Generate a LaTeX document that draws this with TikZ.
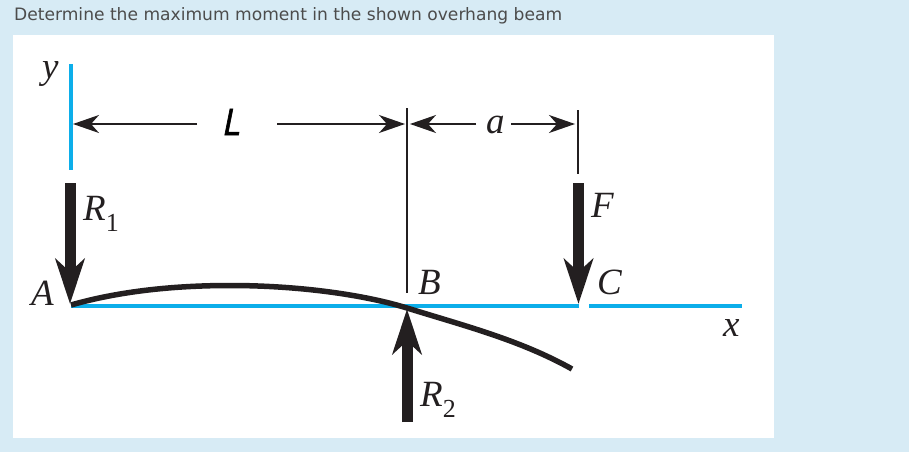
\documentclass[tikz,border=0pt]{standalone}
\usepackage{fontspec}
\usepackage{xcolor}
\usetikzlibrary{arrows.meta}
\setmainfont{Liberation Serif}
\newfontfamily\headfont{DejaVu Sans}
\newfontfamily\dimfont[FakeBold=1.6,FakeSlant=0.2,FakeStretch=0.82]{Liberation Sans}
\definecolor{pagebg}{HTML}{D7EBF5}
\definecolor{axisblue}{HTML}{0CAEEA}
\definecolor{inkblack}{HTML}{231F20}
\tikzset{
    lbl/.style={inner sep=0pt, anchor=base west, text=inkblack, font=\fontsize{37}{40}\selectfont\itshape},
    axisline/.style={axisblue, line width=3.6},
    extline/.style={inkblack, line width=1.2},
    dimarrow/.style={inkblack, line width=1.3, -{Stealth[length=26,width=18,inset=8]}},
    forcearrow/.style={inkblack, line width=11, -{Stealth[length=45,width=29,inset=13]}},
}
\newcommand{\subnum}[1]{\raisebox{-11pt}{\fontsize{26}{26}\selectfont\upshape #1}}

\begin{document}
\begin{tikzpicture}[x=1pt, y=-1pt]
\useasboundingbox (0,0) rectangle (909,452);
\fill[pagebg] (0,0) rectangle (909,452);
\fill[white] (13,35) rectangle (774,438);
\node[inner sep=0pt, anchor=base west, text=black!70, font=\fontsize{17.1}{20}\headfont] (title) at (14,21) {Determine the maximum moment in the shown overhang beam};

% end points
\coordinate (ytop) at (71,64);
\coordinate (ybot) at (71,170);
\coordinate (A) at (71,305);
\coordinate (Bbeam) at (407,308);
\coordinate (Cbeam) at (579,306);
\coordinate (Cgap) at (589,306);
\coordinate (xend) at (742,306);
\coordinate (peak) at (230,285.5);
\coordinate (tipend) at (572,369);

% blue axes
\draw[axisline] (ytop) -- (ybot);
\draw[axisline] (71,306) -- (Cbeam);
\draw[axisline] (Cgap) -- (xend);

% deflected beam
\draw[inkblack, line width=5.5] (A) .. controls (120,291) and (175,285.5) .. (peak) .. controls (300,285.5) and (365,295) .. (Bbeam) .. controls (465,326) and (520,340) .. (tipend);

% extension lines
\coordinate (Btop) at (407,108);
\coordinate (Bbot) at (407,293);
\coordinate (Ctop) at (578,110);
\coordinate (Cbot) at (578,174);
\draw[extline] (Btop) -- (Bbot);
\draw[extline] (Ctop) -- (Cbot);

% dimensions
\foreach \from/\to in {197/73, 277/405, 476/410, 511/575}
    \draw[dimarrow] (\from,124) -- (\to,124);
\node[inner sep=0pt, anchor=base west, text=black, font=\fontsize{38}{40}\dimfont] (labL) at (222,135) {L};
\node[lbl] (laba) at (486,133) {a};

% forces
\coordinate (R1s) at (70,183);
\coordinate (R1e) at (70,304);
\coordinate (Fs) at (578.5,183);
\coordinate (Fe) at (578.5,304);
\coordinate (R2s) at (407,422);
\coordinate (R2e) at (407,309);
\draw[forcearrow] (R1s) -- (R1e);
\draw[forcearrow] (Fs) -- (Fe);
\draw[forcearrow] (R2s) -- (R2e);

% labels
\node[lbl] (laby) at (42,78) {y};
\node[lbl] (labR1) at (83,220) {R\subnum{1}};
\node[lbl] (labA) at (31,305) {A};
\node[lbl] (labB) at (418,294) {B};
\node[lbl] (labC) at (597,294) {C};
\node[lbl] (labF) at (591,217) {F};
\node[lbl] (labx) at (723,336) {x};
\node[lbl] (labR2) at (420,406) {R\subnum{2}};
\end{tikzpicture}
\end{document}
